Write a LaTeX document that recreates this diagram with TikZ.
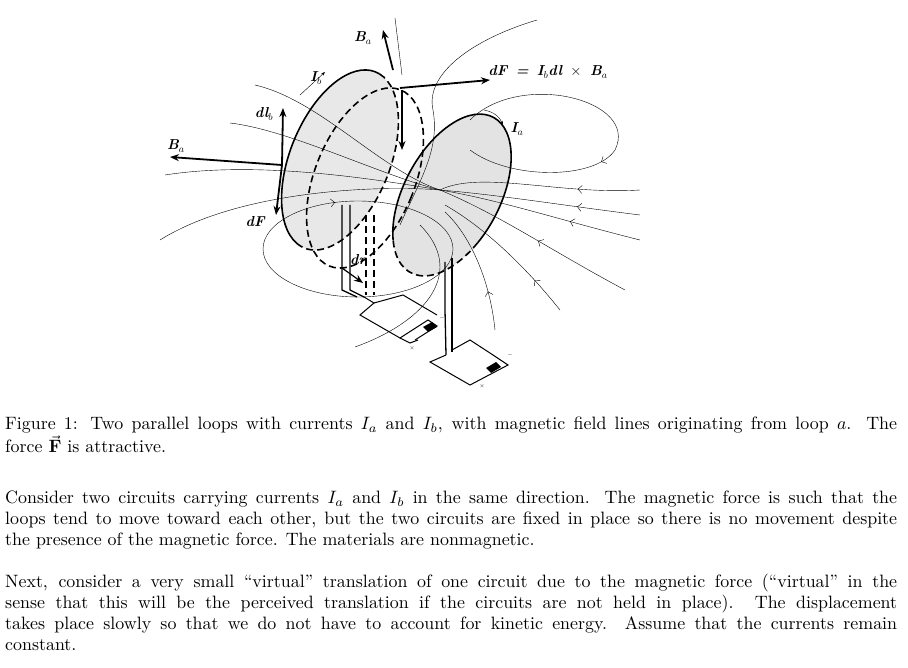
\documentclass[tikz,border=0pt]{standalone}
\usetikzlibrary{arrows.meta,decorations.markings}
\newcommand{\mytext}[1]{\scalebox{1.79}{\parbox{498.3pt}{\fontsize{10}{11.7}\selectfont #1}}}
\begin{document}
\begin{tikzpicture}[x=1pt,y=-1pt,
  fl/.style={thin},
  loopln/.style={line width=1.6pt},
  dsh/.style={line width=1.6pt,dash pattern=on 7pt off 4pt},
  big/.style={line width=1.8pt,-{Stealth[length=9pt,width=7pt]}},
  lab/.style={font=\bfseries\itshape\Large,inner sep=1pt},
  arr/.style={postaction={decorate},decoration={markings,mark=at position #1 with {\arrow{Straight Barb[length=4pt]}}}}]
\useasboundingbox (0,0) rectangle (908,668);
\fill[white] (0,0) rectangle (908,668);
% shading
\fill[gray!18] [shift={(340,160)},rotate=-22] (0,0) ellipse (50 and 95);
\fill[gray!22] [shift={(452,195)},rotate=-28] (0,0) ellipse (48 and 88);
% field lines
\draw[fl] (395,18) -- (402,75);
\draw[fl] (537,20) .. controls (470,40) and (425,75) .. (433,110) .. controls (440,150) and (420,180) .. (400,225);
\draw[fl,arr=0.6] (470,120) .. controls (520,70) and (640,100) .. (615,150) .. controls (595,180) and (510,180) .. (470,150);
\coordinate (c) at (440,190);
\draw[fl,arr=0.15] (640,190) .. controls (560,195) and (480,170) .. (c) .. controls (380,170) and (320,100) .. (255,85);
\draw[fl,arr=0.15] (640,215) .. controls (560,205) and (500,195) .. (c) .. controls (380,175) and (290,130) .. (230,123);
\draw[fl,arr=0.15] (640,240) .. controls (560,220) and (500,200) .. (c) .. controls (380,180) and (260,160) .. (165,175);
\draw[fl,arr=0.2] (625,290) .. controls (550,250) and (500,215) .. (c) .. controls (380,185) and (240,190) .. (160,240);
\draw[fl,arr=0.25] (560,310) .. controls (520,260) and (480,225) .. (445,205);
\draw[fl,arr=0.3] (495,330) .. controls (490,280) and (470,235) .. (445,212);
\draw[fl] (355,347) .. controls (430,320) and (465,270) .. (420,225);
\draw[fl,arr=0.7] [shift={(358,249)}] (0,0) ellipse (95 and 48);
% loop b
\begin{scope}[shift={(340,160)},rotate=-22]
\draw[loopln] (100:50 and 95) arc[start angle=100,end angle=275,x radius=50,y radius=95];
\draw[dsh] (275:50 and 95) arc[start angle=-85,end angle=100,x radius=50,y radius=95];
\end{scope}
\begin{scope}[shift={(365,178)},rotate=-22]
\draw[dsh] (0,0) ellipse (50 and 95);
\end{scope}
% loop a
\begin{scope}[shift={(452,195)},rotate=-28]
\draw[loopln] (130:48 and 88) arc[start angle=130,end angle=380,x radius=48,y radius=88];
\draw[dsh] (20:48 and 88) arc[start angle=20,end angle=130,x radius=48,y radius=88];
\end{scope}
% leads b
\draw[line width=1.3pt] (342,205) -- (342,290) -- (357,297);
\draw[line width=1.3pt] (350,205) -- (350,290) -- (364,297);
\draw[dsh,line width=1.2pt] (366,215) -- (366,295);
\draw[dsh,line width=1.2pt] (374,215) -- (374,295);
\draw[line width=1pt] (364,297) -- (374,303) -- (360,315) -- (400,338) -- (428,320) -- (437,326) -- (415,340);
\draw[line width=1pt] (374,303) -- (403,295) -- (437,315);
\draw[line width=1pt] (400,338) -- (410,343) -- (418,340);
\fill (423,327) -- (432,322) -- (437,327) -- (428,332) -- cycle;
\node[font=\tiny] at (412,348) {$\times$};
\node[font=\tiny] at (442,318) {$-$};
% leads a
\draw[line width=1.3pt] (445,262) -- (445,310) -- (446,355);
\draw[line width=1.3pt] (452,258) -- (452,352) ;
\draw[line width=1pt] (446,355) -- (430,362) -- (470,385) -- (508,365) -- (493,355) -- (470,340) -- (452,350);
\fill (486,368) -- (496,362) -- (501,367) -- (491,373) -- cycle;
\node[font=\tiny] at (482,386) {$\times$};
\node[font=\tiny] at (510,355) {$-$};
% big arrows
\draw[big] (393,70) -- (383,30);
\draw[big] (400,88) -- (490,80);
\draw[big] (402,90) -- (402,150);
\draw[big] (282,165) -- (170,157);
\draw[big] (282,165) -- (283,108);
\draw[big] (282,165) -- (276,215);
\draw[big,line width=1.2pt] (342,268) -- (363,283);
\draw[thin,-{Stealth[length=4pt]}] (300,95) -- (325,72);
\draw[thin,-{Stealth[length=4pt]}] (484,110) .. controls (495,112) and (500,118) .. (503,125);
% labels
\node[lab] at (363,38) {B$_a$};
\node[lab] at (316,78) {I$_b$};
\node[lab] at (264,114) {dl$_b$};
\node[lab] at (176,146) {B$_a$};
\node[lab] at (255,222) {dF};
\node[lab] at (548,72) {dF\, = \,I$_b$dl \,$\times$\, B$_a$};
\node[lab] at (517,129) {I$_a$};
\node[lab] at (358,260) {dr};
% text
\begin{scope}[every node/.style={anchor=north west,inner sep=0pt}]
\node at (5,417) {\mytext{Figure 1: Two parallel loops with currents $I_a$ and $I_b$, with magnetic field lines originating from loop $a$. The\linebreak force $\vec{\mathbf F}$ is attractive.}};
\node at (5,491) {\mytext{Consider two circuits carrying currents $I_a$ and $I_b$ in the same direction. The magnetic force is such that the\linebreak loops tend to move toward each other, but the two circuits are fixed in place so there is no movement despite\linebreak the presence of the magnetic force. The materials are nonmagnetic.}};
\node at (5,574) {\mytext{Next, consider a very small ``virtual'' translation of one circuit due to the magnetic force (``virtual'' in the\linebreak sense that this will be the perceived translation if the circuits are not held in place). The displacement\linebreak takes place slowly so that we do not have to account for kinetic energy. Assume that the currents remain\linebreak constant.}};
\end{scope}
\end{tikzpicture}
\end{document}
